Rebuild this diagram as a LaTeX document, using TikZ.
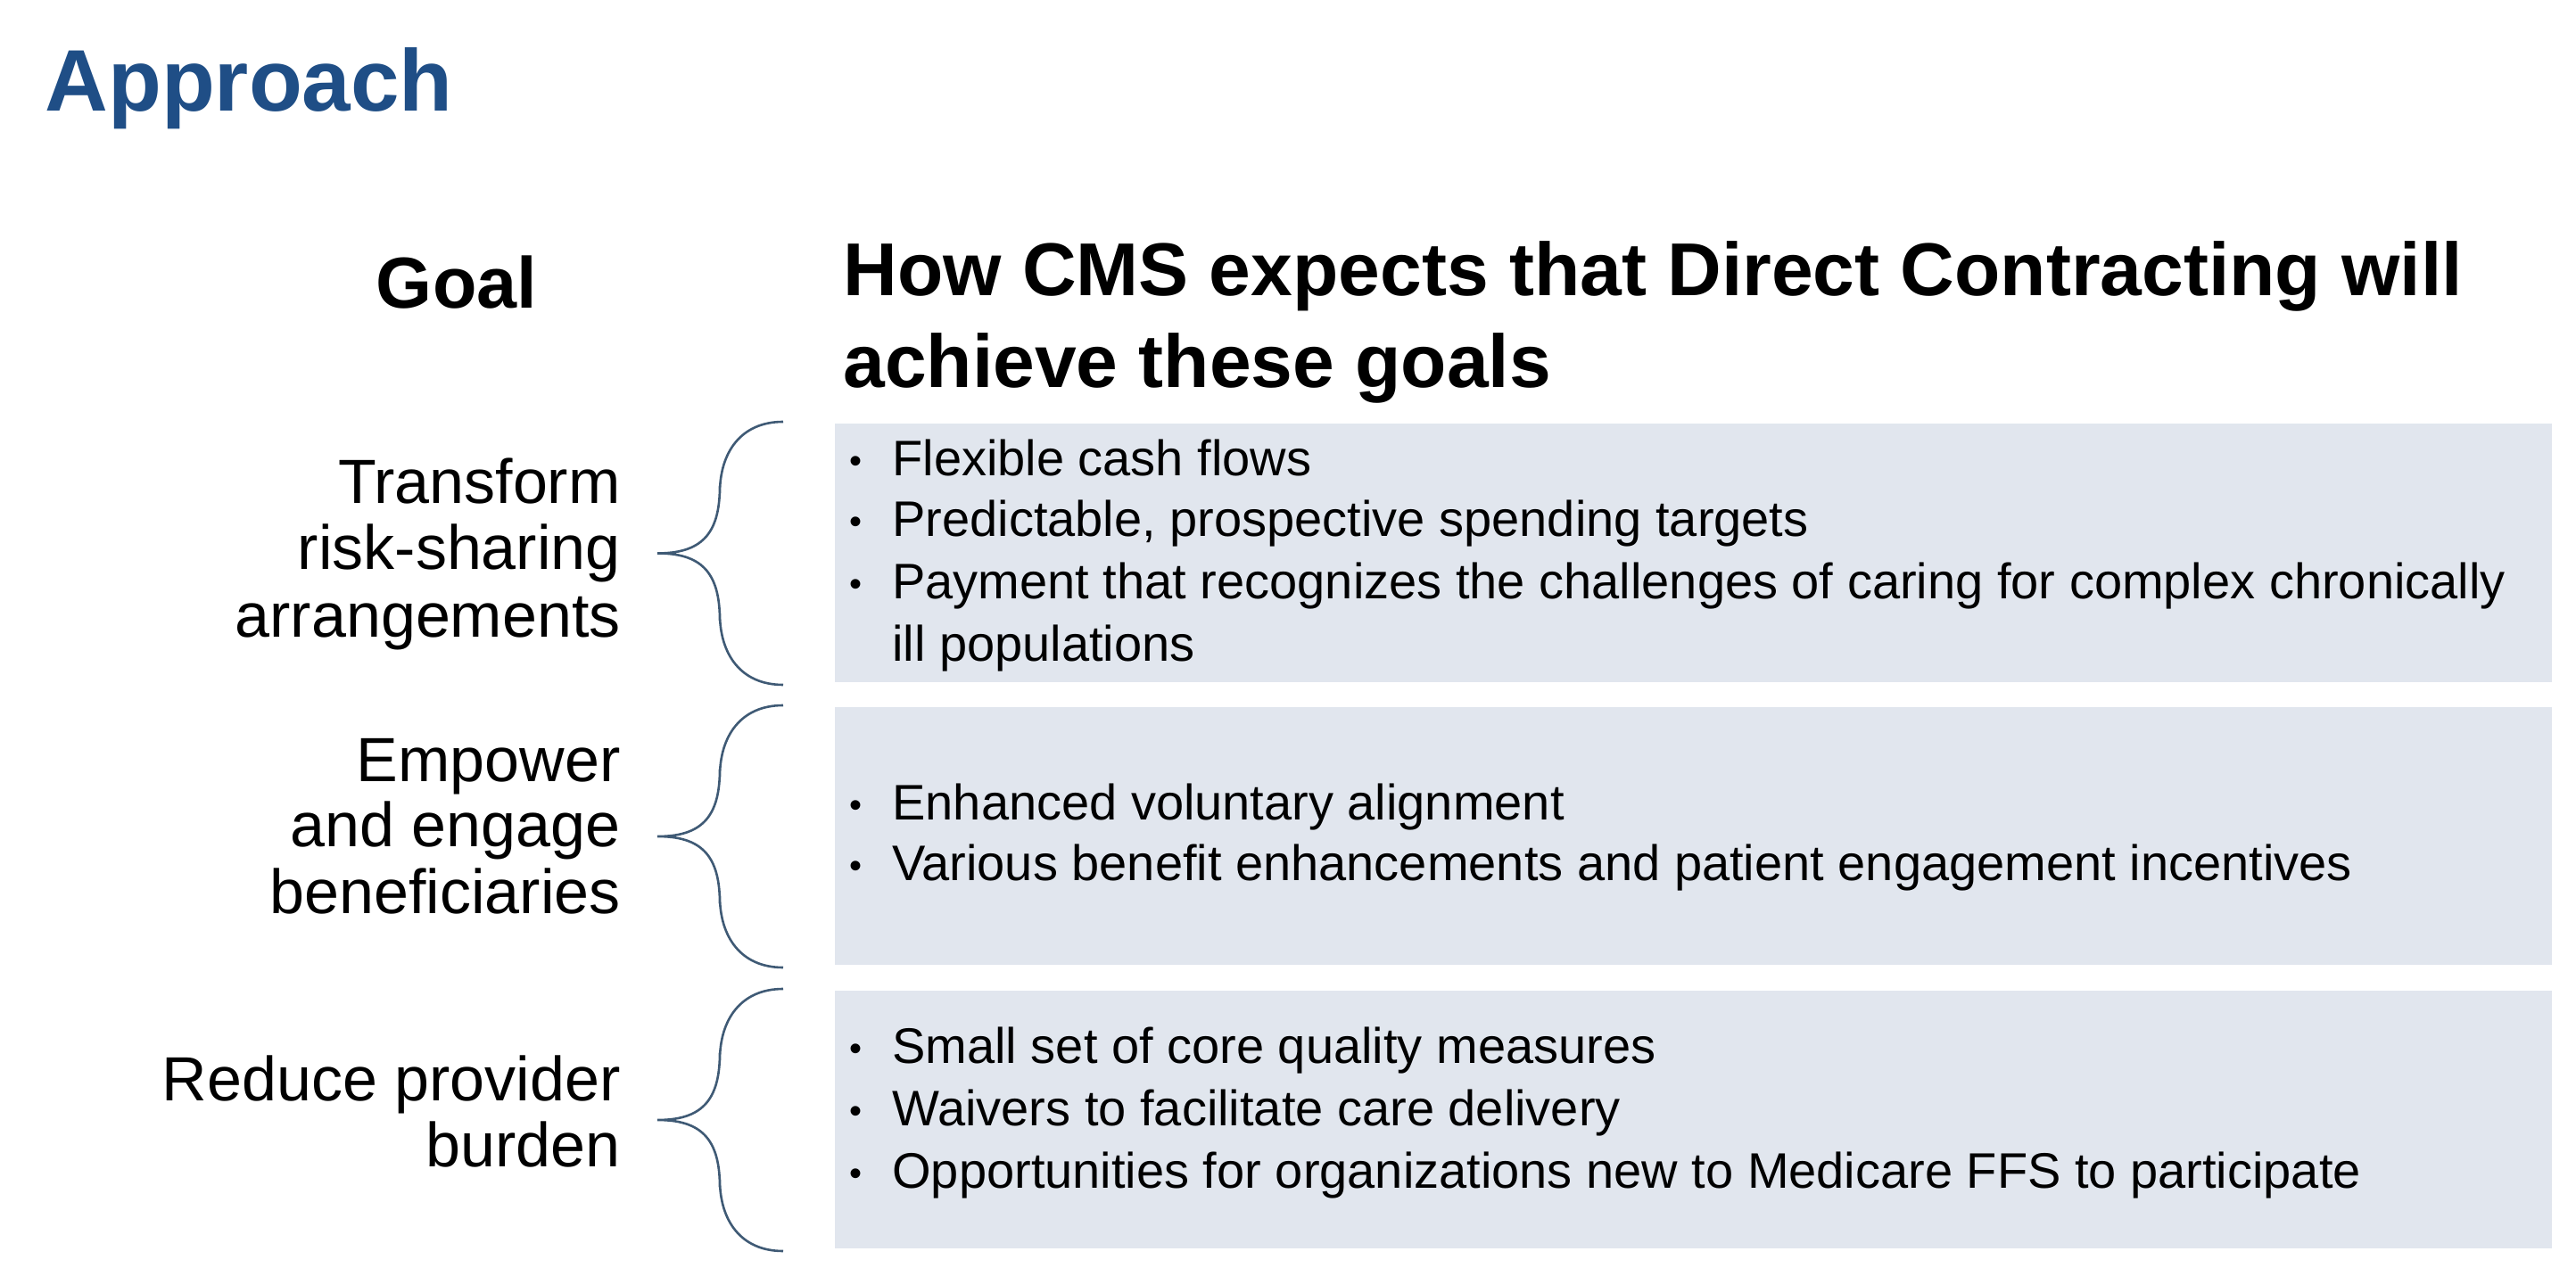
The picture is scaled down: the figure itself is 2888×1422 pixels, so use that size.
\documentclass[tikz,border=0pt]{standalone}
\usepackage{fontspec}
\setmainfont{Liberation Sans}
\definecolor{titleblue}{HTML}{1F4E86}
\definecolor{boxfill}{HTML}{E1E6EE}
\definecolor{bracecol}{HTML}{3F5A75}
\begin{document}
\begin{tikzpicture}[x=0.5pt,y=-0.5pt,
  bl/.style={anchor=base west,inner sep=0pt,font=\fontsize{28}{35}\selectfont},
  bu/.style={anchor=base west,inner sep=0pt,font=\fontsize{20}{35}\selectfont},
  goal/.style={anchor=base east,inner sep=0pt,font=\fontsize{35}{38}\selectfont},
  hdr/.style={anchor=base west,inner sep=0pt,font=\bfseries\fontsize{42}{55}\selectfont},
  gbox/.style={fill=boxfill,draw=none},
  brace/.style={draw=bracecol,line width=1.3pt}]
\useasboundingbox (0,0) rectangle (2888,1422);
\node[anchor=base west,inner sep=0pt,text=titleblue,font=\bfseries\fontsize{49}{55}\selectfont] (title) at (50,125) {Approach};
\node[anchor=base,inner sep=0pt,font=\bfseries\fontsize{40.5}{55}\selectfont] (goalh) at (512,346) {Goal};
\node[hdr] (h1) at (945,332) {How CMS expects that Direct Contracting will};
\node[hdr] (h2) at (945,435) {achieve these goals};
% boxes
\fill[gbox] (936,475) rectangle (2861,765);
\fill[gbox] (936,793) rectangle (2861,1082);
\fill[gbox] (936,1111) rectangle (2861,1400);
% braces
\foreach \t/\b in {473/768, 791/1085, 1109/1403}{
  \pgfmathsetmacro{\m}{(\t+\b)/2}
  \draw[brace] (878,\t) .. controls (830,\t) and (807,\t+35) .. (807,\t+80)
     -- (807,\m-75) .. controls (807,\m-20) and (785,\m) .. (737,\m)
     .. controls (785,\m) and (807,\m+20) .. (807,\m+75)
     -- (807,\b-80) .. controls (807,\b-35) and (830,\b) .. (878,\b);
}
% goals
\node[goal] (g1a) at (696,565) {Transform};
\node[goal] (g1b) at (696,639) {risk-sharing};
\node[goal] (g1c) at (696,715) {arrangements};
\node[goal] (g2a) at (696,877) {Empower};
\node[goal] (g2b) at (696,949) {and engage};
\node[goal] (g2c) at (696,1024) {beneficiaries};
\node[goal] (g3a) at (696,1234) {Reduce provider};
\node[goal] (g3b) at (696,1308) {burden};
% bullets
\foreach \y/\txt [count=\i] in {534/Flexible cash flows, 602/{Predictable, prospective spending targets}, 672/Payment that recognizes the challenges of caring for complex chronically, 919/Enhanced voluntary alignment, 987/Various benefit enhancements and patient engagement incentives, 1192/Small set of core quality measures, 1262/Waivers to facilitate care delivery, 1332/Opportunities for organizations new to Medicare FFS to participate}{
  \node[bu] (b\i) at (952,\y-3) {•};
  \node[bl] (t\i) at (1000,\y) {\txt};
}
\node[bl] (t3b) at (1000,742) {ill populations};
\end{tikzpicture}
\end{document}
